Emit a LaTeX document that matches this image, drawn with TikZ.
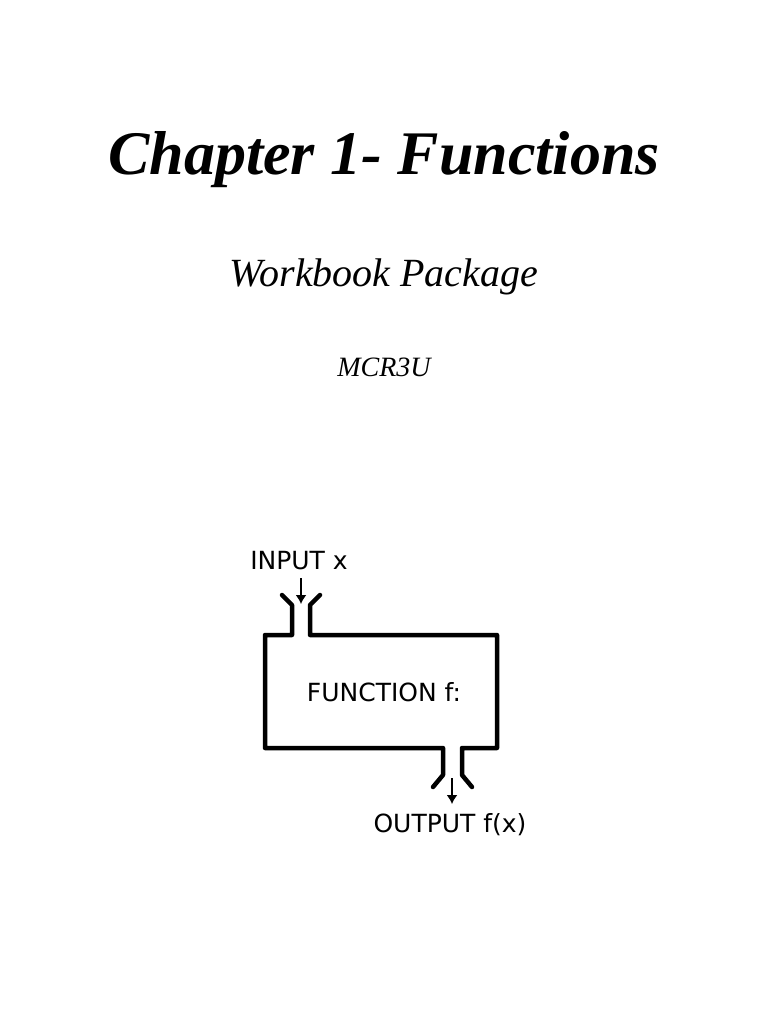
\documentclass[tikz,border=0pt]{standalone}
\usepackage{fontspec}
\usetikzlibrary{arrows.meta}
\setmainfont{Liberation Serif}
\newfontfamily\diag{DejaVu Sans}
\begin{document}
\begin{tikzpicture}[x=1pt,y=-1pt,
  pipe/.style={line width=4.5pt,line join=round,line cap=round},
  lbl/.style={font=\diag\fontsize{25}{25}\selectfont,inner sep=0pt},
  arr/.style={line width=1.5pt,-{Latex[length=9pt,width=11pt]}}]
\useasboundingbox (0,0) rectangle (768,1024);
\node[inner sep=0pt] (title) at (384,160) {\fontsize{62}{62}\selectfont\bfseries\itshape Chapter 1- Functions};
\node[inner sep=0pt] (sub) at (384,277) {\fontsize{40}{40}\selectfont\itshape Workbook Package};
\node[inner sep=0pt] (code) at (384,367) {\fontsize{28}{28}\selectfont\itshape MCR3U};
\node[lbl] (in) at (299,561) {INPUT x};
\node[lbl] (fn) at (384,692) {FUNCTION f:};
\node[lbl] (out) at (450,825) {OUTPUT f(x)};
\draw[pipe] (282,595) -- (292,605) -- (292,635) -- (265,635) -- (265,748) -- (443,748) -- (443,775) -- (433,787);
\draw[pipe] (320,595) -- (310,605) -- (310,635) -- (497,635) -- (497,748) -- (462,748) -- (462,775) -- (472,787);
\coordinate (ia) at (301,578);
\coordinate (ib) at (301,604);
\draw[arr] (ia) -- (ib);
\coordinate (oa) at (452,778);
\coordinate (ob) at (452,804);
\draw[arr] (oa) -- (ob);
\end{tikzpicture}
\end{document}
